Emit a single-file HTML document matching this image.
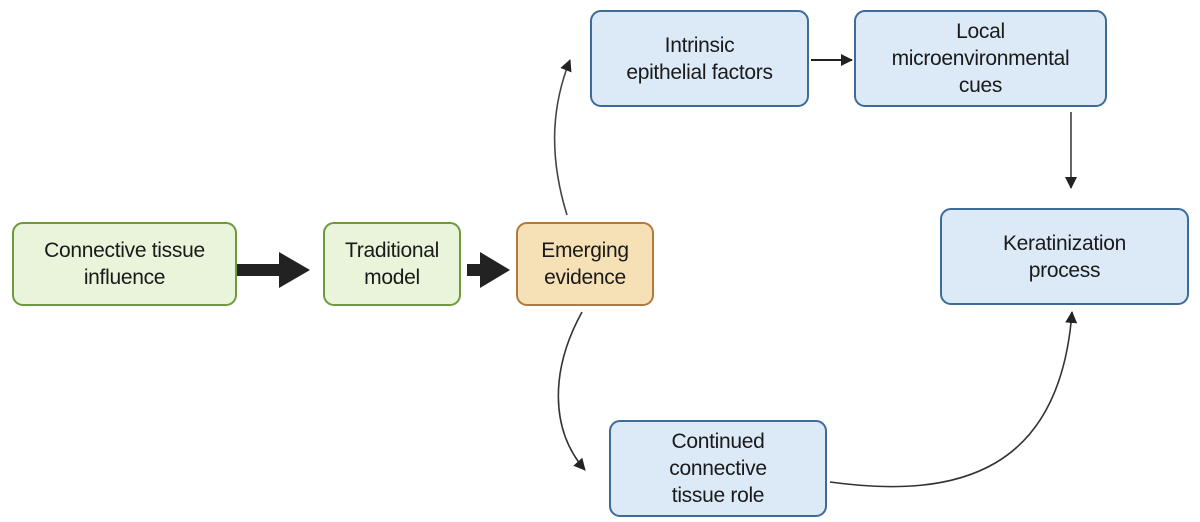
<!DOCTYPE html>
<html><head><meta charset="utf-8"><style>
body{margin:0;width:1200px;height:522px;background:#fff;position:relative;overflow:hidden;font-family:"Liberation Sans",Arial,sans-serif;}
.b{position:absolute;box-sizing:border-box;border-radius:11px;border:2px solid;display:flex;align-items:center;justify-content:center;text-align:center;font-size:21px;line-height:27px;color:#1a1a1a;letter-spacing:-0.3px;}
.g{background:#e9f4da;border-color:#6d9a3f;}
.o{background:#f6e0b5;border-color:#b27a3e;}
.u{background:#dce9f6;border-color:#3f6b98;}
svg{position:absolute;left:0;top:0;}
</style></head><body>
<svg width="1200" height="522">
<defs>
<marker id="a2" markerWidth="12" markerHeight="12" refX="11" refY="6" orient="auto" markerUnits="userSpaceOnUse"><path d="M0,0 L12,6 L0,12 z" fill="#222"/></marker>
</defs>
<rect x="236" y="264" width="46" height="12" fill="#222"/><path d="M279,252 L310,270 L279,288 z" fill="#222"/>
<rect x="467" y="264" width="16" height="12" fill="#222"/><path d="M480,252 L510,270 L480,288 z" fill="#222"/>
<path d="M567,215 C550,160 550,110 570,60" fill="none" stroke="#444" stroke-width="1.6" marker-end="url(#a2)"/>
<path d="M811,60 L852,60" fill="none" stroke="#222" stroke-width="2" marker-end="url(#a2)"/>
<path d="M1071,112 L1071,188" fill="none" stroke="#333" stroke-width="1.5" marker-end="url(#a2)"/>
<path d="M582,312 C550,370 550,430 585,470" fill="none" stroke="#333" stroke-width="1.6" marker-end="url(#a2)"/>
<path d="M830,482 C960,500 1060,470 1072,312" fill="none" stroke="#333" stroke-width="1.6" marker-end="url(#a2)"/>
</svg>
<div class="b g" style="left:12px;top:222px;width:225px;height:84px">Connective tissue<br>influence</div>
<div class="b g" style="left:323px;top:222px;width:138px;height:84px">Traditional<br>model</div>
<div class="b o" style="left:516px;top:222px;width:138px;height:84px">Emerging<br>evidence</div>
<div class="b u" style="left:590px;top:10px;width:219px;height:97px">Intrinsic<br>epithelial factors</div>
<div class="b u" style="left:854px;top:10px;width:253px;height:97px">Local<br>microenvironmental<br>cues</div>
<div class="b u" style="left:940px;top:208px;width:249px;height:97px">Keratinization<br>process</div>
<div class="b u" style="left:609px;top:420px;width:218px;height:97px">Continued<br>connective<br>tissue role</div>
</body></html>
